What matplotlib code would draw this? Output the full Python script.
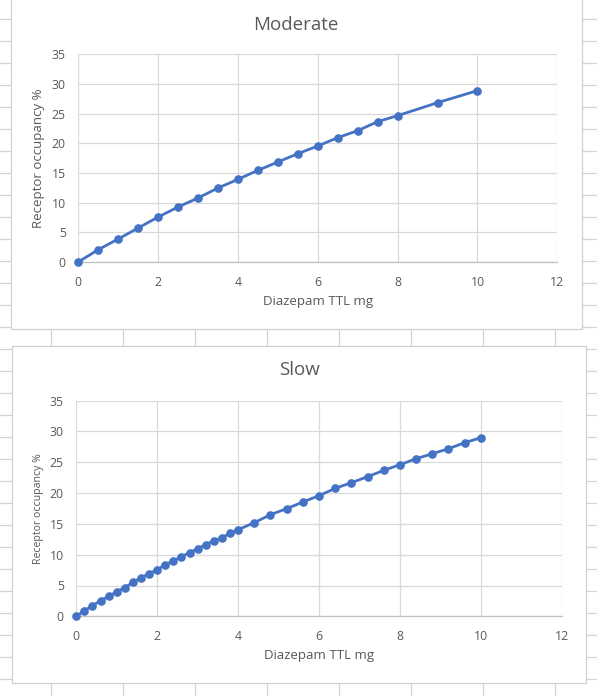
import matplotlib
matplotlib.use("Agg")
import matplotlib.pyplot as plt
from matplotlib.patches import Rectangle

plt.rcParams['font.family'] = ['Open Sans', 'DejaVu Sans']

# ---- data ----
mod_dose = [0, 0.5, 1, 1.5, 2, 2.5, 3, 3.5, 4, 4.5, 5, 5.5, 6, 6.5, 7, 7.5, 8, 9, 10]
mod_occ = [0, 2.08, 3.88, 5.73, 7.58, 9.27, 10.79, 12.47, 13.93, 15.45, 16.85,
           18.26, 19.55, 20.96, 22.13, 23.65, 24.66, 26.85, 28.88]

slow_dose = [0, 0.2, 0.4, 0.6, 0.8, 1.0, 1.2, 1.4, 1.6, 1.8, 2.0, 2.2, 2.4, 2.6, 2.8,
             3.0, 3.2, 3.4, 3.6, 3.8, 4.0, 4.4, 4.8, 5.2, 5.6, 6.0, 6.4, 6.8, 7.2,
             7.6, 8.0, 8.4, 8.8, 9.2, 9.6, 10.0]
slow_occ = [0, 0.92, 1.73, 2.54, 3.24, 4.0, 4.65, 5.52, 6.27, 6.92, 7.57, 8.38, 9.03,
            9.68, 10.33, 10.98, 11.63, 12.28, 12.76, 13.47, 14.06, 15.2, 16.5, 17.47,
            18.55, 19.58, 20.77, 21.69, 22.66, 23.69, 24.61, 25.58, 26.39, 27.2,
            28.18, 28.99]

x_ticks = [0, 2, 4, 6, 8, 10, 12]
y_ticks = [0, 5, 10, 15, 20, 25, 30, 35]
titles = ["Moderate", "Slow"]
xlabel = "Diazepam TTL mg"
ylabel = "Receptor occupancy %"

W, H = 597, 696
fig = plt.figure(figsize=(W / 100, H / 100), dpi=100)

# ---- spreadsheet background ----
bg = fig.add_axes([0, 0, 1, 1], zorder=0)
bg.set_xlim(0, W)
bg.set_ylim(H, 0)
bg.axis('off')
cell_col = '#d4d4d4'
y = -3
while y < H:
    bg.axhline(y, color=cell_col, lw=0.9)
    y += 22
x = 50.7
while x < W:
    bg.axvline(x, color=cell_col, lw=0.9)
    x += 72

# chart boxes (x0, y0, x1, y1) in pixels
boxes = [(10.7, -5, 581.7, 329), (12.3, 345.7, 585.7, 683)]
for (x0, y0, x1, y1) in boxes:
    bg.add_patch(Rectangle((x0, y0), x1 - x0, y1 - y0, facecolor='white',
                           edgecolor='#d0d0d0', lw=0.9, zorder=3))

# plot areas (left, right, top, bottom) in pixels
areas = [(78.3, 557.3, 54.3, 262.0), (76.3, 561.7, 400.7, 616.3)]
title_y = [25, 370]
xlabel_y = [302, 655]
ylabel_x = [39, 38]
ylabel_fs = [9.5, 7.6]
datasets = [(mod_dose, mod_occ), (slow_dose, slow_occ)]

txt = '#595959'
for i in range(2):
    l, r, t, b = areas[i]
    ax = fig.add_axes([l / W, 1 - b / H, (r - l) / W, (b - t) / H], zorder=2)
    ax.set_facecolor('none')
    xs, ys = datasets[i]
    ax.plot(xs, ys, color='#4472C4', lw=2.0, marker='o', ms=5.2,
            markeredgecolor='#4472C4', markerfacecolor='#4472C4',
            clip_on=False, zorder=3)
    ax.set_xlim(0, 12)
    ax.set_ylim(0, 35)
    ax.set_xticks(x_ticks)
    ax.set_yticks(y_ticks)
    ax.grid(True, color='#d9d9d9', lw=0.9)
    ax.set_axisbelow(True)
    for s in ['top', 'right', 'left']:
        ax.spines[s].set_visible(False)
    ax.spines['bottom'].set_color('#bfbfbf')
    ax.spines['bottom'].set_linewidth(0.9)
    ax.tick_params(length=0, labelsize=8.8, labelcolor=txt)
    ax.tick_params(axis='x', pad=10)
    ax.tick_params(axis='y', pad=9)
    x0, y0, x1, y1 = boxes[i]
    fig.text(((x0 + x1) / 2) / W, 1 - title_y[i] / H, titles[i], ha='center',
             va='center', fontsize=13.5, color=txt)
    fig.text(((l + r) / 2) / W, 1 - xlabel_y[i] / H, xlabel, ha='center',
             va='center', fontsize=9.5, color=txt)
    fig.text(ylabel_x[i] / W, 1 - ((t + b) / 2) / H, ylabel, ha='center',
             va='center', rotation=90, fontsize=ylabel_fs[i], color=txt)

fig.savefig('out.png', dpi=100)
